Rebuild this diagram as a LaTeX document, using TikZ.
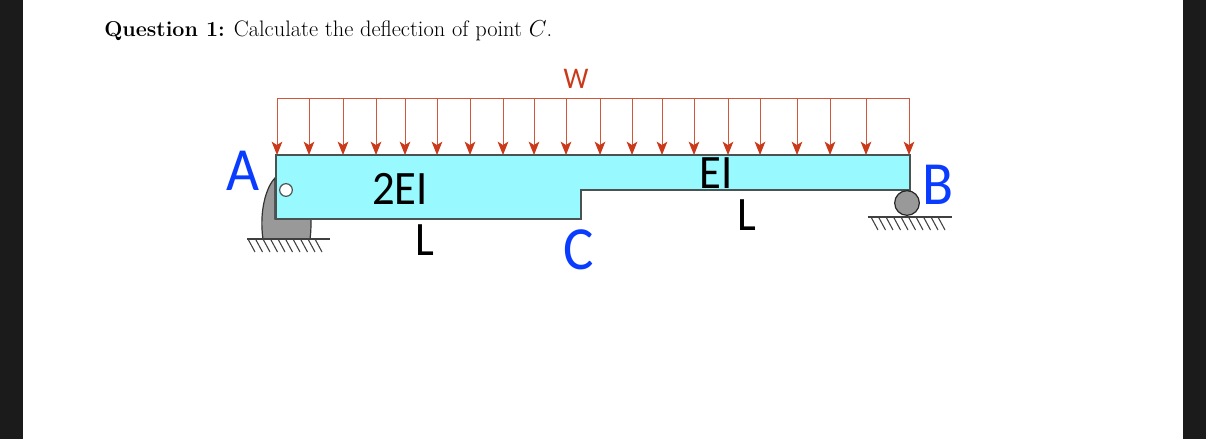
\documentclass[tikz,border=0pt]{standalone}
\usepackage{fontspec}
\usepackage{amsmath}
\newfontfamily\lblfont[FakeStretch=0.93]{Carlito}
\usetikzlibrary{arrows.meta}
\definecolor{beamcyan}{HTML}{98FAFF}
\definecolor{loadred}{HTML}{C9391A}
\definecolor{lblblue}{HTML}{0A3CFF}
\definecolor{outl}{HTML}{4A5252}
\definecolor{sidebar}{HTML}{1B1B1B}
\definecolor{suppgray}{HTML}{999999}
\tikzset{
  x=0.75pt,y=-0.75pt,
  loadline/.style={draw=loadred!85,line width=0.75pt},
  loadarrow/.style={draw=loadred!85,line width=0.75pt,-{Stealth[length=10pt,width=8pt,inset=2.5pt,color=loadred]}},
  beamshape/.style={fill=beamcyan,draw=outl,line width=1.1pt,line join=miter},
  support/.style={fill=suppgray,draw=black!80,line width=0.9pt},
  groundline/.style={draw=black!75,line width=0.8pt},
  hatchline/.style={draw=black!75,line width=0.8pt},
  bluelabel/.style={text=lblblue,font=\lblfont\fontsize{46}{46}\selectfont,inner sep=0pt},
  blacklabel/.style={text=black,font=\lblfont\fontsize{36}{36}\selectfont,inner sep=0pt},
  redlabel/.style={text=loadred,font=\lblfont\fontsize{22.5}{22.5}\selectfont,inner sep=0pt},
}
\begin{document}
\begin{tikzpicture}
\useasboundingbox (0,0) rectangle (1206,439);
\fill[sidebar] (0,0) rectangle (23,439);
\fill[sidebar] (1183,0) rectangle (1206,439);
% load
\coordinate (lt0) at (277,98);
\coordinate (lt1) at (909,98);
\draw[loadline] (lt0) -- (lt1);
\foreach \p in {277,309,343,376,405,437,470,503,534,566,600,632,662,694,728,760,797,830,866,909}{
  \coordinate (t\p) at (\p,98);
  \coordinate (b\p) at (\p,155);
  \draw[loadarrow] (t\p) -- (b\p);
}
% support A
\draw[support] (275,178) .. controls (266,187) and (259,212) .. (263,239) -- (310,239) .. controls (311,232) and (311,226) .. (311,219) -- (275,219) -- cycle;
\draw[groundline] (247,239) -- (330,239);
\foreach \h in {248,255.5,263,270.5,278,285.5,293,300.5,308,315}{
  \draw[hatchline] (\h,239) -- (\h+7,252);
}
% beam
\draw[beamshape] (276,155) -- (910,155) -- (910,190) -- (581,190) -- (581,219) -- (276,219) -- cycle;
\node[circle,draw=outl,fill=white,line width=0.9pt,minimum size=9.5pt,inner sep=0pt] (pin) at (286,190) {};
% support B
\node[circle,draw=black!85,fill=suppgray,line width=0.9pt,minimum size=18.5pt,inner sep=0pt] (roller) at (907,203) {};
\draw[groundline] (868,217) -- (952,217);
\foreach \h in {871,878.5,886,893.5,901,908.5,916,923.5,931,938}{
  \draw[hatchline] (\h,217) -- (\h+7,230);
}
% labels
\node[bluelabel] (la) at (243,171) {A};
\node[bluelabel] (lb) at (938,185) {B};
\node[bluelabel] (lc) at (579,250) {C};
\node[blacklabel] (ei2) at (400,188.5) {2EI};
\node[blacklabel] (ei1) at (716,173) {EI};
\node[blacklabel] (l1) at (425,240) {L};
\node[blacklabel] (l2) at (747,215) {L};
\node[redlabel] (w) at (576,79) {W};
\node[anchor=base west,inner sep=0pt,font=\fontsize{16.8}{18}\selectfont] (title) at (104,36.5) {{\fontsize{16.1}{18}\selectfont\textbf{Question 1:}} Calculate the deflection of point $C$.};
\end{tikzpicture}
\end{document}
